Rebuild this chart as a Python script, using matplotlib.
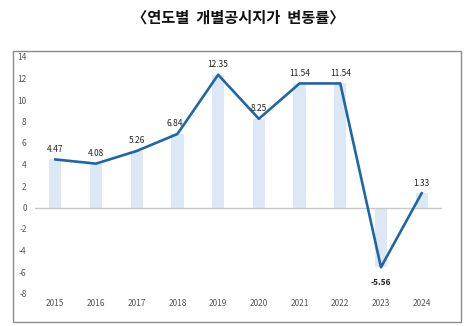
import matplotlib
matplotlib.use("Agg")
import matplotlib.pyplot as plt
from matplotlib.patches import Rectangle

years = ["2015", "2016", "2017", "2018", "2019", "2020", "2021", "2022", "2023", "2024"]
rates = [4.47, 4.08, 5.26, 6.84, 12.35, 8.25, 11.54, 11.54, -5.56, 1.33]
labels = ["4.47", "4.08", "5.26", "6.84", "12.35", "8.25", "11.54", "11.54", "-5.56", "1.33"]
yticks = [14, 12, 10, 8, 6, 4, 2, 0, -2, -4, -6, -8]

plt.rcParams['font.family'] = ['Noto Sans CJK KR', 'DejaVu Sans']

W, H = 474, 326
fig = plt.figure(figsize=(W / 100, H / 100), dpi=100)
fig.patch.set_facecolor("white")

# outer frame
frame = Rectangle((13 / W, 1 - 322 / H), (461 - 13) / W, (322 - 51) / H,
                  transform=fig.transFigure, fill=False, edgecolor="#8a8a8a",
                  linewidth=1.0)
fig.patches.append(frame)

fig.text(238 / W, 1 - 18 / H, "〈연도별  개별공시지가  변동률〉", ha="center", va="center",
         fontsize=11, fontweight="bold", color="#111111")

left, right = 35 / W, 442 / W
top, bottom = 1 - 57 / H, 1 - 293.5 / H
ax = fig.add_axes([left, bottom, right - left, top - bottom])

x = list(range(len(years)))
ax.bar(x, rates, width=0.3, color="#dce8f5", zorder=1)
ax.axhline(0, color="#c8c8c8", linewidth=1.0, zorder=2)
ax.plot(x, rates, color="#1f66a8", linewidth=1.9, zorder=3)

for xi, v, lab in zip(x, rates, labels):
    if v < 0:
        ax.annotate(lab, (xi, v), xytext=(0, -8), textcoords="offset points",
                    ha="center", va="top", fontsize=6, color="#222222",
                    fontweight="bold")
    else:
        dx = -2 if lab == "6.84" else 0
        ax.annotate(lab, (xi, v), xytext=(dx, 4), textcoords="offset points",
                    ha="center", va="bottom", fontsize=6, color="#222222")

ax.set_xlim(-0.5, len(years) - 0.5)
ax.set_ylim(-8, 14)
ax.set_yticks(yticks)
ax.set_yticklabels([str(t) for t in yticks])
ax.set_xticks(x)
ax.set_xticklabels(years)
ax.tick_params(axis="both", length=0, labelsize=6, labelcolor="#555555")
ax.tick_params(axis="y", pad=6)
ax.tick_params(axis="x", pad=4)
for s in ax.spines.values():
    s.set_visible(False)
ax.set_facecolor("none")

fig.savefig("out.png", dpi=100, facecolor="white")
